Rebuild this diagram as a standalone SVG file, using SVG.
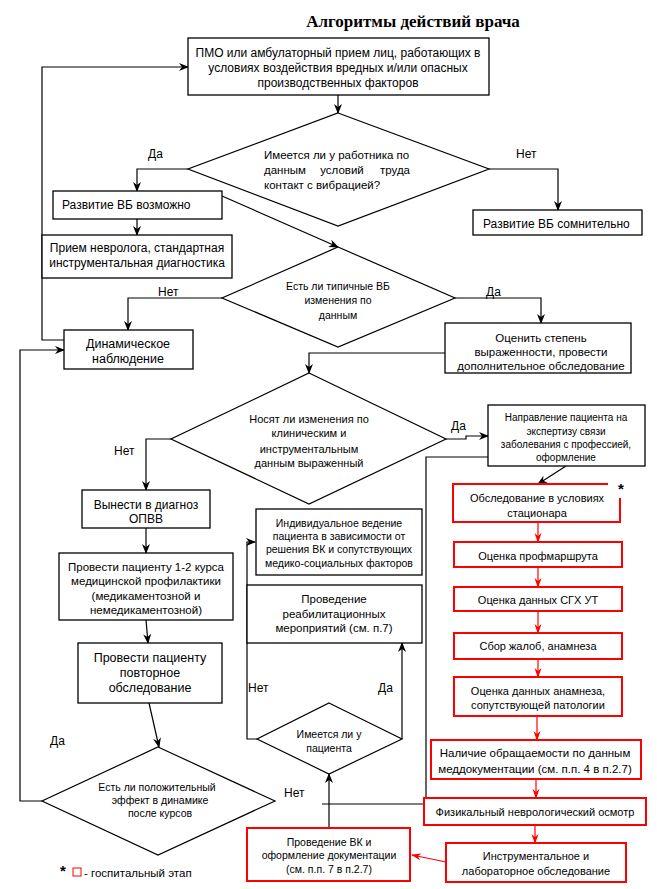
<svg xmlns="http://www.w3.org/2000/svg" width="657" height="889" viewBox="0 0 657 889">
<style>
text{font-family:"Liberation Sans",Arial,sans-serif;fill:#000;}
.c{text-anchor:middle;}
.title{font-family:"Liberation Serif","Times New Roman",serif;font-weight:bold;font-size:17px;}
.b{fill:#fff;stroke:#000;stroke-width:1.3;}
.r{fill:#fff;stroke:#f00;stroke-width:2;}
.d{fill:#fff;stroke:#000;stroke-width:1.2;}
.ln{fill:none;stroke:#000;stroke-width:1.2;marker-end:url(#ah);}
.lp{fill:none;stroke:#000;stroke-width:1.2;}
.rl{fill:none;stroke:#f00;stroke-width:1.2;marker-end:url(#rh);}
.f10{font-size:10px;}.f105{font-size:10.5px;}.f11{font-size:11px;}.f115{font-size:11.5px;}.f12{font-size:12px;}.f125{font-size:12.5px;}
.ast{font-weight:bold;font-size:15px;}
</style>
<defs>
<marker id="ah" markerWidth="10" markerHeight="8" refX="9" refY="4" orient="auto" markerUnits="userSpaceOnUse"><path d="M0,0 L10,4 L0,8 L3,4 z" fill="#000"/></marker>
<marker id="rh" markerWidth="10" markerHeight="8" refX="9" refY="4" orient="auto" markerUnits="userSpaceOnUse"><path d="M0,0.5 L10,4 L0,7.5 L3,4 z" fill="#f00"/></marker>
</defs>

<text class="title c" x="413" y="27">Алгоритмы действий врача</text>

<g id="connectors">
<path class="ln" d="M338,95 V113"/>
<path class="ln" d="M188,169 H137 V191"/>
<path class="ln" d="M489,169 H558 V210"/>
<path class="ln" d="M137,219 V235"/>
<path class="ln" d="M222,196 L338,247"/>
<path class="ln" d="M222,298 H128 V330"/>
<path class="ln" d="M455,298 H541 V323"/>
<path class="ln" d="M64,340 H42 V67 H188"/>
<path class="ln" d="M445,353 H309 V373"/>
<path class="ln" d="M171,439 H146 V490"/>
<path class="ln" d="M446,439 H466 V436 H488"/>
<path class="ln" d="M146,528 V553"/>
<path class="ln" d="M146,620 L148,643"/>
<path class="ln" d="M149,703 L159,747"/>
<path class="ln" d="M42,801 H20 V350 H64"/>
<path class="ln" d="M566,466 L538,484"/>
<path class="ln" d="M329,828 V774"/>
<path class="ln" d="M257,739 H247 V542 H255"/>
<path class="ln" d="M402,739 V643"/>
<path class="ln" d="M322,804 H426 V457 H528"/>
<path class="rl" d="M538,522 V542"/>
<path class="rl" d="M538,567 V587"/>
<path class="rl" d="M538,611 V633"/>
<path class="rl" d="M538,659 V677"/>
<path class="rl" d="M537,716 V740"/>
<path class="rl" d="M536,779 V798"/>
<path class="rl" d="M535,825 V843"/>
<path class="rl" d="M446,862 L412,855"/>
</g>

<g id="n1"><rect class="b" x="188" y="38" width="301" height="57"/>
<text class="c f12" x="338" y="57">ПМО или амбулаторный прием лиц, работающих в</text>
<text class="c f12" x="338" y="72">условиях воздействия вредных и/или опасных</text>
<text class="c f12" x="338" y="87">производственных факторов</text></g>

<g id="d1"><polygon class="d" points="338,113 489,169 338,226 188,169"/>
<text class="f115" x="264" y="159">Имеется ли у работника по</text>
<text class="f115" x="264" y="174">данным</text>
<text class="f115 c" x="342" y="174">условий</text>
<text class="f115" x="410" y="174" text-anchor="end">труда</text>
<text class="f115" x="264" y="189">контакт с вибрацией?</text></g>
<text class="f12" x="148" y="158">Да</text>
<text class="f12" x="516" y="158">Нет</text>

<g id="n2"><rect class="b" x="53" y="191" width="169" height="28"/>
<text class="f12" x="62" y="209">Развитие ВБ возможно</text></g>

<g id="n3"><rect class="b" x="473" y="210" width="169" height="25"/>
<text class="f12" x="483" y="228">Развитие ВБ сомнительно</text></g>

<g id="n4"><rect class="b" x="42" y="235" width="190" height="43"/>
<text class="c f12" x="137" y="252">Прием невролога, стандартная</text>
<text class="c f12" x="137" y="267">инструментальная диагностика</text></g>

<g id="d2"><polygon class="d" points="338,247 455,298 338,347 222,298"/>
<text class="c f105" x="338" y="290">Есть ли типичные ВБ</text>
<text class="c f105" x="338" y="304">изменения по</text>
<text class="c f105" x="338" y="319">данным</text></g>
<text class="f12" x="158" y="296">Нет</text>
<text class="f12" x="486" y="296">Да</text>

<g id="n5"><rect class="b" x="64" y="330" width="129" height="39"/>
<text class="c f125" x="128" y="348">Динамическое</text>
<text class="c f125" x="128" y="363">наблюдение</text></g>

<g id="n6"><rect class="b" x="445" y="323" width="186" height="50"/>
<text class="c f115" x="541" y="342">Оценить степень</text>
<text class="c f115" x="541" y="356">выраженности, провести</text>
<text class="c f115" x="541" y="370">дополнительное обследование</text></g>

<g id="d3"><polygon class="d" points="309,373 446,439 309,504 171,439"/>
<text class="c f11" x="309" y="423">Носят ли изменения по</text>
<text class="c f11" x="309" y="437">клиническим и</text>
<text class="c f11" x="309" y="453">инструментальным</text>
<text class="c f11" x="309" y="467">данным выраженный</text></g>
<text class="f12" x="114" y="455">Нет</text>
<text class="f12" x="451" y="430">Да</text>

<g id="n7"><rect class="b" x="488" y="405" width="157" height="61"/>
<text class="c f10" x="566" y="421">Направление пациента на</text>
<text class="c f10" x="566" y="435">экспертизу связи</text>
<text class="c f10" x="566" y="448">заболевания с профессией,</text>
<text class="c f10" x="566" y="461">оформление</text></g>

<g id="n8"><path class="r" d="M608,484 H453 V522 H620 V498"/>
<text class="c f11" x="537" y="502">Обследование в условиях</text>
<text class="c f11" x="537" y="517">стационара</text>
<text class="ast" x="618" y="494">*</text></g>

<g id="n9"><rect class="r" x="454" y="542" width="168" height="25"/>
<text class="c f11" x="538" y="560">Оценка профмаршрута</text></g>

<g id="n10"><rect class="r" x="454" y="587" width="168" height="24"/>
<text class="c f11" x="538" y="604">Оценка данных СГХ УТ</text></g>

<g id="n11"><rect class="r" x="454" y="633" width="168" height="26"/>
<text class="c f11" x="538" y="650">Сбор жалоб, анамнеза</text></g>

<g id="n12"><rect class="r" x="454" y="677" width="168" height="39"/>
<text class="c f11" x="538" y="695">Оценка данных анамнеза,</text>
<text class="c f11" x="538" y="709">сопутствующей патологии</text></g>

<g id="n13"><rect class="r" x="431" y="740" width="210" height="39"/>
<text class="c f115" x="535" y="757">Наличие обращаемости по данным</text>
<text class="c f115" x="535" y="773">меддокументации (см. п.п. 4 в п.2.7)</text></g>

<g id="n14"><rect class="r" x="424" y="798" width="222" height="27"/>
<text class="c f11" x="535" y="816">Физикальный неврологический осмотр</text></g>

<g id="n15"><rect class="r" x="446" y="843" width="180" height="39"/>
<text class="c f11" x="536" y="860">Инструментальное и</text>
<text class="c f11" x="536" y="875">лабораторное обследование</text></g>

<g id="n16"><rect class="r" x="247" y="828" width="163" height="53"/>
<text class="c f105" x="329" y="846">Проведение ВК и</text>
<text class="c f105" x="329" y="859">оформление документации</text>
<text class="c f105" x="329" y="873">(см. п.п. 7 в п.2.7)</text></g>
<text class="f12" x="284" y="797">Нет</text>

<g id="d5"><polygon class="d" points="329,703 402,739 329,774 257,739"/>
<text class="c f105" x="329" y="738">Имеется ли у</text>
<text class="c f105" x="329" y="752">пациента</text></g>
<text class="f12" x="248" y="692">Нет</text>
<text class="f12" x="378" y="692">Да</text>

<g id="n17"><rect class="b" x="256" y="509" width="166" height="66"/>
<text class="c f105" x="339" y="527">Индивидуальное ведение</text>
<text class="c f105" x="339" y="540">пациента в зависимости от</text>
<text class="c f105" x="339" y="553">решения ВК и сопутствующих</text>
<text class="c f105" x="339" y="567">медико-социальных факторов</text></g>

<g id="n18"><rect class="b" x="247" y="585" width="175" height="58"/>
<text class="c f115" x="334" y="603">Проведение</text>
<text class="c f115" x="334" y="618">реабилитационных</text>
<text class="c f115" x="334" y="632">мероприятий (см. п.7)</text></g>

<g id="n19"><rect class="b" x="82" y="490" width="128" height="38"/>
<text class="c f12" x="146" y="509">Вынести в диагноз</text>
<text class="c f12" x="146" y="523">ОПВВ</text></g>

<g id="n20"><rect class="b" x="59" y="553" width="174" height="67"/>
<text class="c f115" x="146" y="571">Провести пациенту 1-2 курса</text>
<text class="c f115" x="146" y="585">медицинской профилактики</text>
<text class="c f115" x="146" y="600">(медикаментозной и</text>
<text class="c f115" x="146" y="614">немедикаментозной)</text></g>

<g id="n21"><rect class="b" x="78" y="643" width="144" height="60"/>
<text class="c f125" x="150" y="662">Провести пациенту</text>
<text class="c f125" x="150" y="677">повторное</text>
<text class="c f125" x="150" y="692">обследование</text></g>

<g id="d4"><polygon class="d" points="158,747 275,801 158,855 42,801"/>
<text class="c f105" x="157" y="791">Есть ли положительный</text>
<text class="c f105" x="160" y="804">эффект в динамике</text>
<text class="c f105" x="160" y="817">после курсов</text></g>
<text class="f12" x="50" y="745">Да</text>

<g id="legend">
<text class="ast" x="60" y="876">*</text>
<rect x="73" y="868" width="8" height="8" fill="none" stroke="#f00" stroke-width="1"/>
<text class="f115" x="84" y="877">- госпитальный этап</text>
</g>
</svg>
